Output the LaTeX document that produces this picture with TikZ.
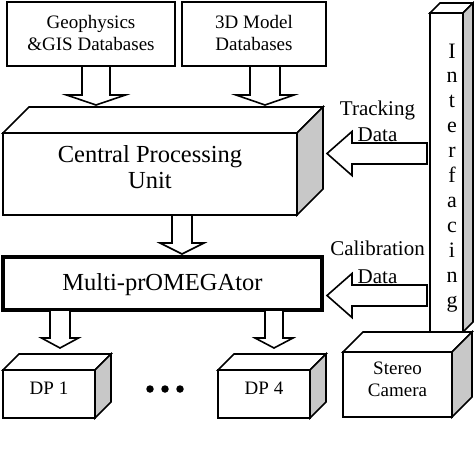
\documentclass[tikz,border=0pt]{standalone}
\usepackage{fontspec}
\setmainfont{Liberation Serif}
\usetikzlibrary{calc}
\definecolor{sidegray}{RGB}{200,200,200}
\tikzset{
  lw/.style={line width=1.6pt},
  box/.style={draw, lw, fill=white, inner sep=0pt, outer sep=0pt, align=center},
  topface/.style={draw, lw, fill=white, line join=miter},
  sideface/.style={draw, lw, fill=sidegray, line join=miter},
  blk/.style={draw, lw, fill=white, line join=miter},
  small/.style={font=\fontsize{19}{22}\selectfont},
  big/.style={font=\fontsize{24.5}{26}\selectfont},
  lbl/.style={font=\fontsize{21}{26}\selectfont, inner sep=0pt, anchor=base, align=center},
  dot/.style={circle, fill=black, inner sep=0pt, minimum size=7.5pt},
}
\newcommand{\cuboid}[2]{%
  \draw[topface] (#1.north west) -- ++(#2,-#2) -- ($(#1.north east)+(#2,-#2)$) -- (#1.north east) -- cycle;
  \draw[sideface] (#1.north east) -- ++(#2,-#2) -- ($(#1.south east)+(#2,-#2)$) -- (#1.south east) -- cycle;}
\newcommand{\downblk}[5]{%
  \draw[blk] ($(#1)+(-#3,0)$) -- ($(#1)+(#3,0)$) -- ($(#2)+(#3,-#5)$) -- ($(#2)+(#4,-#5)$) -- (#2)
    -- ($(#2)+(-#4,-#5)$) -- ($(#2)+(-#3,-#5)$) -- cycle;}
\newcommand{\leftblk}[5]{%
  \draw[blk] ($(#1)+(0,-#3)$) -- ($(#2)+(#5,-#3)$) -- ($(#2)+(#5,-#4)$) -- (#2)
    -- ($(#2)+(#5,#4)$) -- ($(#2)+(#5,#3)$) -- ($(#1)+(0,#3)$) -- cycle;}
\begin{document}
\begin{tikzpicture}[x=1pt,y=-1pt]
\useasboundingbox (0,0) rectangle (474,448);

% top databases
\node[box, small, minimum width=168pt, minimum height=64pt, text height=36pt, text depth=4pt] (geo) at (91,34) {Geophysics\\\&GIS Databases};
\node[box, small, minimum width=144pt, minimum height=64pt, text height=36pt, text depth=4pt] (mdl) at (254,34) {3D Model\\Databases};

% central processing unit
\node[box, big, minimum width=294pt, minimum height=82pt, text height=43pt, text depth=15pt] (cpu) at (150,174) {Central Processing\\Unit};
\cuboid{cpu}{26}

% multi-promegator
\node[box, big, line width=3.5pt, minimum width=319pt, minimum height=53pt, text height=17pt, text depth=4pt] (multi) at (162.5,283.5) {Multi-prOMEGAtor};

% display processors
\node[box, small, minimum width=92pt, minimum height=48pt, text height=13pt, text depth=13pt] (dp1) at (49,394) {DP 1};
\cuboid{dp1}{16}
\node[box, small, minimum width=92pt, minimum height=48pt, text height=13pt, text depth=13pt] (dp4) at (264,394) {DP 4};
\cuboid{dp4}{16}
\node[dot] (d1) at (150,389) {};
\node[dot] (d2) at (165,389) {};
\node[dot] (d3) at (180,389) {};

% interfacing column
\node[box, minimum width=33pt, minimum height=319pt] (intf) at (446.5,172.5) {};
\cuboid{intf}{10}
\node[inner sep=0pt, anchor=base, align=center, font=\fontsize{22}{24.9}\selectfont] (intftxt) at (452,307) {I\\n\\t\\e\\r\\f\\a\\c\\i\\n\\g};

% stereo camera
\node[box, small, minimum width=109pt, minimum height=65pt, text height=36pt, text depth=13pt] (cam) at (397.5,384.5) {Stereo\\Camera};
\cuboid{cam}{20}

% block arrows
\coordinate (a1s) at ($(geo.south)+(5,0)$);
\coordinate (a1e) at ($(a1s)+(0,39)$);
\downblk{a1s}{a1e}{14}{29.5}{10}
\coordinate (a2s) at ($(mdl.south)+(11,0)$);
\coordinate (a2e) at ($(a2s)+(0,39)$);
\downblk{a2s}{a2e}{15}{29}{10}
\coordinate (a3s) at ($(cpu.south)+(32,0)$);
\coordinate (a3e) at ($(a3s)+(0,39)$);
\downblk{a3s}{a3e}{10}{22}{11}
\coordinate (a4s) at (dp1.center |- multi.south);
\coordinate (a4s) at ($(a4s)+(11,0)$);
\coordinate (a4e) at ($(a4s)+(0,38)$);
\downblk{a4s}{a4e}{10}{18.5}{10}
\coordinate (a5s) at (dp4.center |- multi.south);
\coordinate (a5s) at ($(a5s)+(10,0)$);
\coordinate (a5e) at ($(a5s)+(0,38)$);
\downblk{a5s}{a5e}{9}{19}{10}

\coordinate (trs) at ($(intf.west |- cpu.center)+(-3,-20.5)$);
\coordinate (tre) at ($(trs)+(-100,0)$);
\leftblk{trs}{tre}{10.5}{22}{25}
\coordinate (cas) at ($(intf.west |- multi.center)+(-3,12)$);
\coordinate (cae) at ($(cas)+(-100,0)$);
\leftblk{cas}{cae}{10.5}{22}{25}

% labels
\node[lbl] (trk) at (377.5,115) {Tracking};
\node[lbl] (trkd) at (377.5,141) {Data};
\node[lbl] (cal) at (377.5,255) {Calibration};
\node[lbl] (cald) at (377.5,283) {Data};
\end{tikzpicture}
\end{document}
